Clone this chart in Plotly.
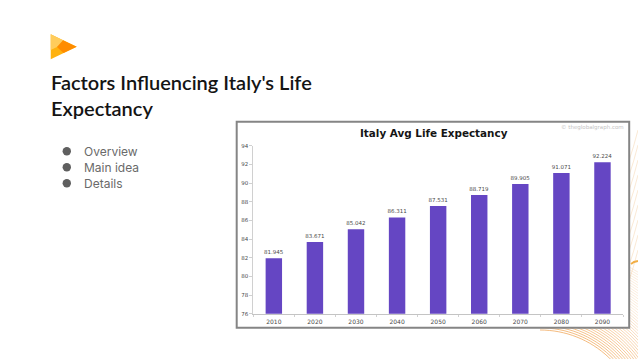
import math
import plotly.graph_objects as go

W, H = 638, 359
years = ["2010", "2020", "2030", "2040", "2050", "2060", "2070", "2080", "2090"]
values = [81.945, 83.671, 85.042, 86.311, 87.531, 88.719, 89.905, 91.071, 92.224]
value_labels = ["81.945", "83.671", "85.042", "86.311", "87.531", "88.719", "89.905", "91.071", "92.224"]
y_ticks = [76, 78, 80, 82, 84, 86, 88, 90, 92, 94]
bullets = ["Overview", "Main idea", "Details"]
heading = ["Factors Influencing Italy's Life", "Expectancy"]


def px(x):
    return x / W


def py(y):
    return 1 - y / H


def path(points, close=True):
    s = "M " + " L ".join(f"{px(x):.4f},{py(y):.4f}" for x, y in points)
    return s + " Z" if close else s


def arc(cx, cy, r, a0, a1, n=24):
    return [(cx + r * math.cos(math.radians(a0 + (a1 - a0) * k / n)),
             cy + r * math.sin(math.radians(a0 + (a1 - a0) * k / n))) for k in range(n + 1)]


shapes = []

# decorative fan lines behind the chart (bottom right)
for i in range(40):
    r = 100 + i * 2.2
    alpha = max(0.25, 0.95 - 0.03 * i)
    shapes.append(dict(type="path", xref="paper", yref="paper", layer="below",
                       path=path(arc(540, 430, r, -90, -25), close=False),
                       line=dict(color=f"rgba(240,165,85,{alpha:.2f})", width=0.8)))
# lighter fan on the right edge
for i in range(9):
    y0 = 130 + i * 15
    shapes.append(dict(type="path", xref="paper", yref="paper", layer="below",
                       path=f"M {px(628):.4f},{py(y0 + 34):.4f} Q {px(634):.4f},{py(y0 + 16):.4f} {px(638):.4f},{py(y0):.4f}",
                       line=dict(color="rgba(240,185,120,0.45)", width=0.7)))
# stronger accent on the right edge
shapes.append(dict(type="path", xref="paper", yref="paper", layer="below",
                   path=path([(631, 264), (634, 262), (638, 261)], close=False),
                   line=dict(color="#F2AE45", width=2)))

# chart card
shapes.append(dict(type="rect", xref="paper", yref="paper", layer="below",
                   x0=px(236.7), x1=px(629.2), y0=py(327.7), y1=py(121.7),
                   fillcolor="white", line=dict(color="#858585", width=2)))

# logo
shapes.append(dict(type="path", xref="paper", yref="paper", path=path([(50.7, 34.3), (76.7, 46.7), (50.7, 59.3)]),
                   fillcolor="#FFB20F", line=dict(width=0)))
shapes.append(dict(type="path", xref="paper", yref="paper", path=path([(50.7, 34.3), (65, 41.2), (57, 47), (50.7, 50)]),
                   fillcolor="#FFCC5C", line=dict(width=0)))
shapes.append(dict(type="path", xref="paper", yref="paper", path=path([(63, 40.2), (76.7, 46.7), (63.5, 53.1), (57, 47)]),
                   fillcolor="#FF8C00", line=dict(width=0)))

# bullets
for yc in (151.3, 167.3, 183.3):
    shapes.append(dict(type="circle", xref="paper", yref="paper",
                       x0=px(62.6), x1=px(71), y0=py(yc + 4.2), y1=py(yc - 4.2),
                       fillcolor="#5f5f5f", line=dict(width=0)))

annotations = []
for text, yc in zip(heading, (82.5, 108.0)):
    annotations.append(dict(text=text, xref="paper", yref="paper", x=px(49), y=py(yc), xanchor="left", yanchor="middle",
                            showarrow=False, font=dict(family="Lato", size=20, color="#141414", weight=600)))
for text, yc in zip(bullets, (151.3, 167.3, 183.3)):
    annotations.append(dict(text=text, xref="paper", yref="paper", x=px(81.5), y=py(yc), xanchor="left", yanchor="middle",
                            showarrow=False, font=dict(family="Inter", size=12, color="#6a6a6a")))
annotations.append(dict(text="Italy Avg Life Expectancy", xref="paper", yref="paper", x=px(433.5), y=py(132.7), xanchor="center",
                        yanchor="middle", showarrow=False,
                        font=dict(family="DejaVu Sans", size=10.4, color="#151515", weight="bold")))
annotations.append(dict(text="© theglobalgraph.com", xref="paper", yref="paper", x=px(626), y=py(128), xanchor="right",
                        yanchor="middle", showarrow=False, font=dict(family="DejaVu Sans", size=5.5, color="#c4c4c4")))

fig = go.Figure(go.Bar(x=years, y=values, text=value_labels, textposition="outside", cliponaxis=False,
                       constraintext="none",
                       marker=dict(color="#6546C3", line=dict(width=0)),
                       textfont=dict(family="DejaVu Sans", size=5.5, color="#4a4a4a")))
fig.update_layout(
    width=W, height=H, autosize=False, margin=dict(l=0, r=0, t=0, b=0, autoexpand=False), showlegend=False,
    paper_bgcolor="white", plot_bgcolor="rgba(0,0,0,0)", bargap=0.6, shapes=shapes, annotations=annotations,
    xaxis=dict(domain=[px(253.3), px(623)], type="category", tickson="boundaries", ticks="outside", ticklen=2,
               automargin=False, ticklabelstandoff=2,
               tickcolor="#d0d0d0", linecolor="#c4c4c4", linewidth=1, showgrid=False,
               tickfont=dict(family="DejaVu Sans", size=6, color="#4a4a4a")),
    yaxis=dict(domain=[py(313.7), py(145.7)], range=[76, 94], tickmode="array", tickvals=y_ticks, ticks="outside",
               automargin=False,
               ticklen=3, tickcolor="#d0d0d0", linecolor="#d0d0d0", linewidth=1, showgrid=False, zeroline=False,
               tickfont=dict(family="DejaVu Sans", size=5.5, color="#4a4a4a")),
)
fig.write_html("out.html", config=dict(displayModeBar=False),
               post_script="document.body.style.margin='0';document.body.style.overflow='hidden';")
